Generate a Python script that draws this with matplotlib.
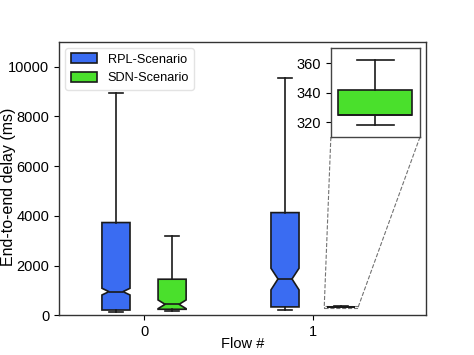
import matplotlib
matplotlib.use("Agg")
import matplotlib.pyplot as plt
from mpl_toolkits.axes_grid1.inset_locator import mark_inset

plt.rcParams['font.family'] = ['Liberation Sans', 'DejaVu Sans']
plt.rcParams['font.size'] = 10.5

flows = [0, 1]
flow_labels = ['0', '1']
scenarios = ['RPL-Scenario', 'SDN-Scenario']
colors = ['#3a6cf2', '#4ae02c']

# stats per flow: [flow0, flow1]
rpl_whislo = [120, 200]
rpl_q1 = [210, 335]
rpl_med = [950, 1460]
rpl_q3 = [3730, 4130]
rpl_whishi = [8940, 9560]
rpl_cilo = [815, 1020]
rpl_cihi = [1085, 1890]

sdn_whislo = [170, 318]
sdn_q1 = [240, 325]
sdn_med = [440, 325]
sdn_q3 = [1450, 342]
sdn_whishi = [3190, 362]
sdn_cilo = [265, 325]
sdn_cihi = [615, 325]

offset = 0.166
width = 0.166


def make_stats(whislo, q1, med, q3, whishi, cilo, cihi):
    return [dict(whislo=a, q1=b, med=c, q3=d, whishi=e, cilo=f, cihi=g, fliers=[])
            for a, b, c, d, e, f, g in zip(whislo, q1, med, q3, whishi, cilo, cihi)]


rpl_stats = make_stats(rpl_whislo, rpl_q1, rpl_med, rpl_q3, rpl_whishi, rpl_cilo, rpl_cihi)
sdn_stats = make_stats(sdn_whislo, sdn_q1, sdn_med, sdn_q3, sdn_whishi, sdn_cilo, sdn_cihi)

fig = plt.figure(figsize=(4.74, 3.55), dpi=100)
ax = fig.add_axes([0.1245, 0.112, 0.7745, 0.770])

lw = 1.2
ink = '#1a1a1a'
common = dict(patch_artist=True, widths=width, showfliers=False,
              whiskerprops=dict(color=ink, lw=lw),
              capprops=dict(color=ink, lw=lw),
              medianprops=dict(color=ink, lw=lw))

b1 = ax.bxp(rpl_stats, positions=[f - offset for f in flows], shownotches=True,
            boxprops=dict(facecolor=colors[0], edgecolor=ink, lw=lw), **common)
b2 = ax.bxp(sdn_stats, positions=[f + offset for f in flows], shownotches=True,
            boxprops=dict(facecolor=colors[1], edgecolor=ink, lw=lw), **common)

ax.set_xlim(-0.503, 1.669)
ax.set_ylim(0, 11000)
ax.set_xticks(flows)
ax.set_xticklabels(flow_labels)
ax.set_yticks([0, 2000, 4000, 6000, 8000, 10000])
ax.set_xlabel('Flow #', fontsize=10.5)
ax.set_ylabel('End-to-end delay (ms)', fontsize=11.5)
ax.xaxis.set_label_coords(0.5, -0.080)
ax.yaxis.set_label_coords(-0.118, 0.47)
for s in ax.spines.values():
    s.set_color('#333333')
    s.set_linewidth(1.0)

ax.legend([b1['boxes'][0], b2['boxes'][0]], scenarios, loc='upper left',
          fontsize=9.2, handlelength=2.1, handleheight=0.8, framealpha=0.8,
          edgecolor='#dddddd')

axins = fig.add_axes([0.698, 0.614, 0.188, 0.250])
axins.bxp([sdn_stats[1]], positions=[flows[1] + offset], shownotches=False,
          boxprops=dict(facecolor=colors[1], edgecolor=ink, lw=lw), **common)
axins.set_xlim(flows[1] + offset - 0.1, flows[1] + offset + 0.1)
axins.set_ylim(310, 370)
axins.set_xticks([])
axins.set_yticks([320, 340, 360])
for s in axins.spines.values():
    s.set_color('#444444')
    s.set_linewidth(1.0)

mark_inset(ax, axins, loc1=3, loc2=4, fc='none', ec='0.45', ls='--', lw=0.8)

fig.savefig('out.png', dpi=100)
